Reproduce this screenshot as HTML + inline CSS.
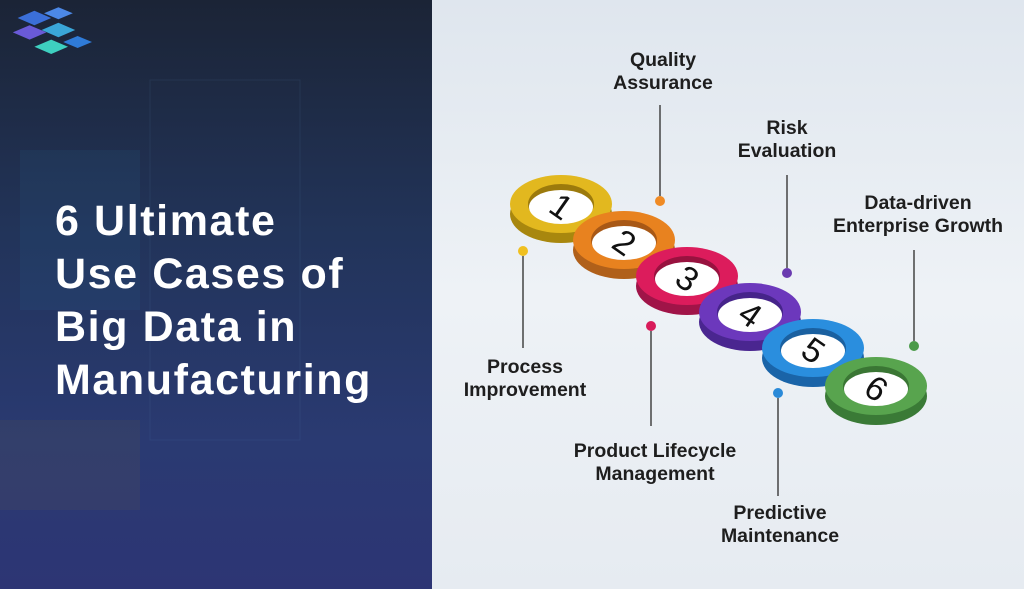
<!DOCTYPE html>
<html><head><meta charset="utf-8"><style>
html,body{margin:0;padding:0}
body{width:1024px;height:589px;overflow:hidden;position:relative;font-family:"Liberation Sans",sans-serif;background:#e9eef3}
#left{position:absolute;left:0;top:0;width:432px;height:589px;background:linear-gradient(180deg,#1b2436 0%,#22345a 40%,#2a3a72 75%,#2d3574 100%)}
#right{position:absolute;left:432px;top:0;width:592px;height:589px;background:linear-gradient(180deg,#dfe6ee 0%,#eef2f6 50%,#e6ebf1 100%)}
.t{position:absolute;left:55px;color:#fff;font-weight:bold;font-size:43px;letter-spacing:1.6px;line-height:53px;white-space:nowrap}
.lab{position:absolute;font-weight:bold;font-size:19.5px;color:#1e1e1e;text-align:center;line-height:23px;width:260px}
</style></head><body>
<div id="left">
<svg width="432" height="589" style="position:absolute;left:0;top:0">
<rect x="150" y="80" width="150" height="360" fill="none" stroke="#5a8fb8" stroke-opacity="0.12"/>
<rect x="20" y="150" width="120" height="160" fill="#2c6a9a" fill-opacity="0.12"/>
<rect x="0" y="420" width="140" height="90" fill="#8a6a30" fill-opacity="0.1"/>
<g transform="translate(8,6) scale(1.2)">
<path d="M8 10 l14-6 14 6 -14 6z" fill="#3b6fd8"/>
<path d="M30 6 l12-5 12 5 -12 5z" fill="#4c88e6"/>
<path d="M4 22 l14-6 14 6 -14 6z" fill="#6a5ad8"/>
<path d="M28 20 l14-6 14 6 -14 6z" fill="#3aa6d8"/>
<path d="M22 34 l14-6 14 6 -14 6z" fill="#3ed0c0"/>
<path d="M46 30 l12-5 12 5 -12 5z" fill="#2f7bd8"/>
</g>
</svg>
<div class="t" style="top:195px">6 Ultimate</div>
<div class="t" style="top:248px">Use Cases of</div>
<div class="t" style="top:301px">Big Data in</div>
<div class="t" style="top:354px">Manufacturing</div>
</div>
<div id="right"></div>
<svg width="1024" height="589" style="position:absolute;left:0;top:0">
<g stroke="#444" stroke-width="1.5">
<line x1="660" y1="105" x2="660" y2="196"/>
<line x1="787" y1="175" x2="787" y2="268"/>
<line x1="914" y1="250" x2="914" y2="341"/>
<line x1="523" y1="256" x2="523" y2="348"/>
<line x1="651" y1="331" x2="651" y2="426"/>
<line x1="778" y1="398" x2="778" y2="496"/>
</g>
<circle cx="660" cy="201" r="5" fill="#f08a24"/>
<circle cx="787" cy="273" r="5" fill="#6a3bb0"/>
<circle cx="914" cy="346" r="5" fill="#4a9a48"/>
<circle cx="523" cy="251" r="5" fill="#f0c020"/>
<circle cx="651" cy="326" r="5" fill="#d81b5a"/>
<circle cx="778" cy="393" r="5" fill="#2a8ad8"/>
<g font-family="Liberation Sans,sans-serif" font-size="34" fill="#111" text-anchor="middle">
<g>
<ellipse cx="561" cy="214" rx="51" ry="29" fill="#a8870e"/>
<ellipse cx="561" cy="204" rx="51" ry="29" fill="#e2b81f"/>
<ellipse cx="561" cy="204" rx="33" ry="20" fill="#9c7a0c"/>
<ellipse cx="561" cy="207" rx="32" ry="17" fill="#fff"/>
<text x="561" y="218" transform="rotate(35 561 207)">1</text>
</g>
<g>
<ellipse cx="624" cy="250" rx="51" ry="29" fill="#b0601a"/>
<ellipse cx="624" cy="240" rx="51" ry="29" fill="#e8821f"/>
<ellipse cx="624" cy="240" rx="33" ry="20" fill="#a85816"/>
<ellipse cx="624" cy="243" rx="32" ry="17" fill="#fff"/>
<text x="624" y="254" transform="rotate(35 624 243)">2</text>
</g>
<g>
<ellipse cx="687" cy="286" rx="51" ry="29" fill="#a01448"/>
<ellipse cx="687" cy="276" rx="51" ry="29" fill="#dc1c5c"/>
<ellipse cx="687" cy="276" rx="33" ry="20" fill="#98123f"/>
<ellipse cx="687" cy="279" rx="32" ry="17" fill="#fff"/>
<text x="687" y="290" transform="rotate(35 687 279)">3</text>
</g>
<g>
<ellipse cx="750" cy="322" rx="51" ry="29" fill="#4a2690"/>
<ellipse cx="750" cy="312" rx="51" ry="29" fill="#6c38bc"/>
<ellipse cx="750" cy="312" rx="33" ry="20" fill="#46248a"/>
<ellipse cx="750" cy="315" rx="32" ry="17" fill="#fff"/>
<text x="750" y="326" transform="rotate(35 750 315)">4</text>
</g>
<g>
<ellipse cx="813" cy="358" rx="51" ry="29" fill="#1a64a8"/>
<ellipse cx="813" cy="348" rx="51" ry="29" fill="#2a8ede"/>
<ellipse cx="813" cy="348" rx="33" ry="20" fill="#1a60a0"/>
<ellipse cx="813" cy="351" rx="32" ry="17" fill="#fff"/>
<text x="813" y="362" transform="rotate(35 813 351)">5</text>
</g>
<g>
<ellipse cx="876" cy="396" rx="51" ry="29" fill="#3a7a36"/>
<ellipse cx="876" cy="386" rx="51" ry="29" fill="#58a44e"/>
<ellipse cx="876" cy="386" rx="33" ry="20" fill="#3a7634"/>
<ellipse cx="876" cy="389" rx="32" ry="17" fill="#fff"/>
<text x="876" y="400" transform="rotate(35 876 389)">6</text>
</g>
</g>
</svg>
<div class="lab" style="left:533px;top:49px">Quality<br>Assurance</div>
<div class="lab" style="left:657px;top:117px">Risk<br>Evaluation</div>
<div class="lab" style="left:788px;top:192px">Data-driven<br>Enterprise Growth</div>
<div class="lab" style="left:395px;top:356px">Process<br>Improvement</div>
<div class="lab" style="left:525px;top:440px">Product Lifecycle<br>Management</div>
<div class="lab" style="left:650px;top:502px">Predictive<br>Maintenance</div>
</body></html>
